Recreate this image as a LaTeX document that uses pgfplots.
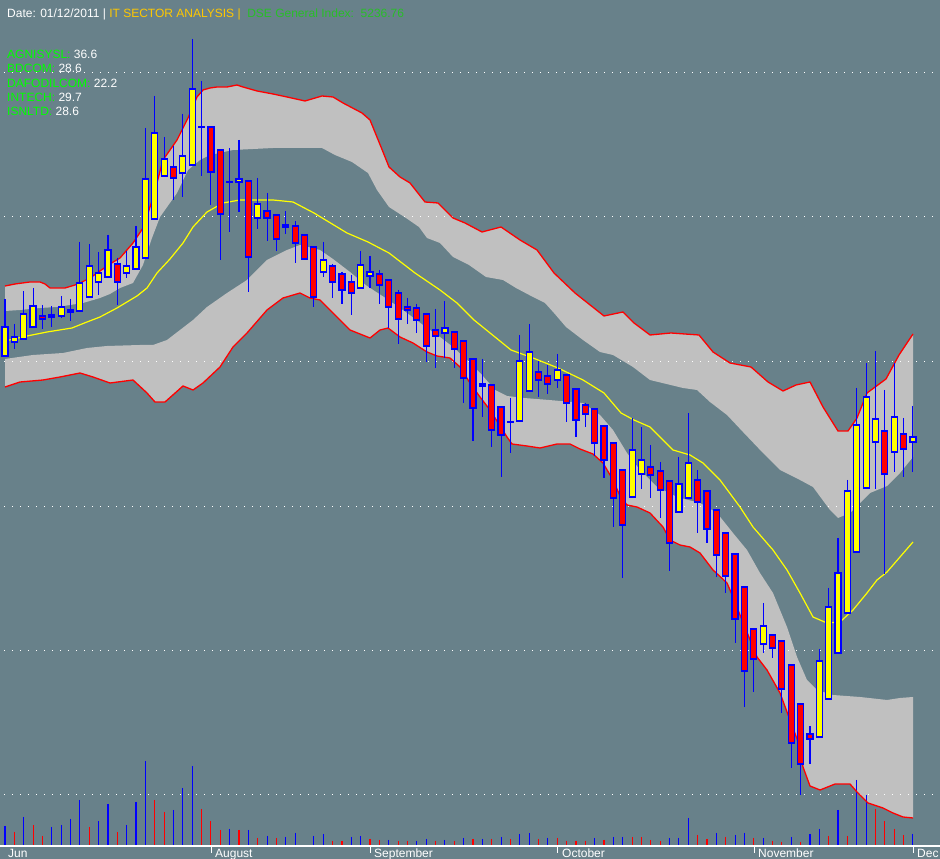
\documentclass[border=0pt]{standalone}
\usepackage{pgfplots}
\pgfplotsset{compat=1.18}
\usepackage{pgfplotstable}
\usepgfplotslibrary{fillbetween}
\usepackage{fontspec}
\setmainfont{Liberation Sans}

\definecolor{bg}{RGB}{104,129,138}
\definecolor{band}{RGB}{192,192,192}
\definecolor{cred}{RGB}{255,0,0}
\definecolor{cyel}{RGB}{255,255,0}
\definecolor{cblue}{RGB}{0,0,255}
\definecolor{gold}{RGB}{255,200,0}
\definecolor{lime}{RGB}{0,255,0}
\definecolor{dgreen}{RGB}{40,190,40}

% candles: i, high, body top, body bottom, low (screen units, down is larger),
% c=1 up (yellow) / 0 down (red); v = top of volume bar, vc=1 blue / 0 red
\pgfplotstableread{
i hi top bot lo c v vc
0 299 327 356 356 1 826 1
1 324 337 342 349 1 832 0
2 291 314 339 339 1 817 1
3 288 306 327 327 1 825 0
4 305 316 319 329 0 836 0
5 306 315 317 327 1 827 1
6 296 307 316 318 1 825 1
7 299 310 312 321 1 819 1
8 242 283 311 311 1 800 1
9 244 266 297 297 1 827 0
10 252 273 282 295 1 821 1
11 235 250 277 277 1 804 1
12 258 264 282 305 0 832 0
13 251 266 273 278 1 825 1
14 226 247 269 269 1 802 1
15 128 179 258 258 1 761 1
16 96 133 219 219 1 800 0
17 137 159 176 177 1 812 0
18 146 167 178 200 0 810 1
19 114 156 173 197 1 788 1
20 39 89 165 165 1 766 1
21 81 127 127 176 1 809 0
22 127 127 172 205 0 821 0
23 150 150 214 260 0 830 0
24 148 182 182 232 1 829 1
25 140 179 182 212 1 830 0
26 181 181 257 292 0 830 1
27 178 204 218 229 1 838 0
28 193 211 218 241 0 836 1
29 215 215 239 251 0 838 0
30 211 225 227 234 1 837 1
31 221 226 243 263 0 833 1
32 235 235 259 259 0 846 1
33 247 247 297 307 0 836 1
34 242 260 272 277 1 834 1
35 264 266 282 298 0 841 0
36 272 274 290 304 0 841 0
37 275 282 293 315 0 837 1
38 251 265 288 288 1 836 1
39 256 272 276 288 1 839 0
40 270 274 285 304 0 840 0
41 280 280 307 328 0 840 1
42 290 293 319 344 0 841 0
43 298 307 310 324 0 841 0
44 304 308 320 333 0 841 1
45 314 314 346 362 0 839 1
46 309 330 336 368 0 841 0
47 301 328 333 358 1 840 1
48 332 332 349 368 0 841 0
49 341 341 378 403 0 838 1
50 359 359 408 441 0 839 0
51 359 384 386 417 0 839 1
52 385 385 430 447 0 839 0
53 407 407 435 477 0 837 1
54 398 422 422 453 1 839 0
55 335 361 421 421 1 834 1
56 324 352 391 391 1 833 1
57 361 372 380 397 0 839 0
58 365 376 384 394 0 838 1
59 354 370 380 388 1 838 0
60 375 375 403 422 0 841 0
61 389 389 420 437 0 841 0
62 403 405 414 427 0 841 0
63 409 409 443 456 0 838 1
64 426 426 460 478 0 840 0
65 443 443 498 527 0 837 1
66 470 470 525 578 0 837 1
67 418 450 497 497 1 837 0
68 427 460 474 489 1 837 0
69 445 467 475 498 0 840 0
70 462 471 490 518 0 841 0
71 481 481 543 571 0 838 1
72 457 484 512 512 1 838 1
73 413 463 498 498 1 818 1
74 470 480 502 533 0 835 0
75 491 491 529 543 0 839 0
76 510 510 555 577 0 833 1
77 533 533 576 593 0 837 0
78 554 554 619 643 0 835 1
79 587 587 671 707 0 833 1
80 629 629 659 692 0 838 0
81 603 626 644 653 1 838 1
82 635 635 648 658 0 841 0
83 641 641 689 713 0 842 0
84 665 665 743 768 0 837 1
85 704 704 764 795 0 842 0
86 726 734 739 764 0 834 1
87 649 661 737 737 1 829 1
88 588 607 699 699 1 836 0
89 538 573 653 653 1 810 1
90 480 491 613 613 1 836 0
91 388 425 552 552 1 780 1
92 363 397 488 488 1 795 1
93 351 419 442 489 1 809 0
94 390 431 474 574 0 821 0
95 363 417 452 472 1 829 0
96 418 434 449 477 0 835 0
97 406 437 442 472 1 834 1
}\candles

\pgfplotstableread{
x y
5 286
15 284
30 282
40 282
45 284
50 288
65 288
75 285
80 283
90 278
100 271
110 264
120 258
133 243
143 228
153 198
163 160
177 140
183 128
188 118
197 97
203 90
210 88
217 87
227 87
237 85
243 87
257 91
273 94
287 97
305 101
322 96
333 97
343 103
362 113
370 120
381 147
389 167
400 177
410 183
425 202
438 203
453 218
465 223
482 232
501 227
520 240
537 250
554 273
575 293
604 316
623 312
634 323
650 335
671 333
699 335
713 352
730 363
751 367
768 382
783 391
796 385
810 382
823 407
838 431
848 431
857 418
867 393
886 379
899 355
913 334
}\upperband

\pgfplotstableread{
x y
5 311
20 310
40 308
57 307
70 305
83 303
100 298
110 294
120 288
133 283
143 265
152 238
160 217
177 193
188 170
200 160
210 155
233 150
273 148
300 148
322 148
335 155
352 162
368 173
377 190
389 207
406 218
419 227
427 238
440 243
453 257
469 265
486 277
503 280
516 288
533 297
545 303
554 313
566 327
583 340
600 352
613 355
633 367
650 380
683 388
697 390
710 402
727 415
743 432
763 453
780 470
800 480
813 487
830 510
838 518
850 513
863 500
870 493
887 486
900 473
913 457
}\upperinner

\pgfplotstableread{
x y
5 341
27 336
47 332
72 328
87 322
100 317
117 308
137 296
147 288
157 273
170 259
183 243
193 227
207 212
223 203
240 200
273 200
293 202
314 213
347 233
368 242
389 253
415 273
440 290
457 303
474 320
495 337
511 350
533 358
558 368
583 380
604 393
621 413
634 420
650 427
663 440
673 450
690 455
703 463
720 480
740 507
753 527
773 550
787 570
800 593
813 617
827 623
840 622
853 610
867 593
877 580
887 572
900 557
913 542
}\midline

\pgfplotstableread{
x y
5 359
33 355
63 353
87 348
107 346
140 345
153 345
167 340
180 330
193 320
207 307
227 293
247 280
267 260
287 250
300 245
320 250
333 259
350 272
367 286
387 299
407 313
427 328
440 337
453 347
467 360
482 375
495 390
507 396
524 398
549 400
583 403
600 415
613 430
627 453
640 470
657 487
677 497
700 503
717 513
733 533
747 550
760 573
773 593
787 627
797 657
807 680
817 690
833 695
860 697
887 700
900 698
913 697
}\lowerinner

\pgfplotstableread{
x y
5 387
20 382
43 380
60 377
80 373
93 377
110 383
133 380
147 393
155 402
165 402
183 386
193 390
203 383
220 367
233 347
247 333
267 310
283 298
300 293
310 298
320 300
333 313
350 330
370 338
380 330
388 328
400 337
413 343
427 352
437 356
450 358
460 367
470 383
480 397
490 410
507 437
512 444
527 446
540 448
557 444
570 444
580 449
593 454
603 463
613 480
620 496
627 505
637 507
650 513
663 527
670 540
680 545
690 547
700 553
713 570
727 583
733 597
740 615
757 657
767 670
780 693
790 720
800 747
803 767
810 786
820 790
835 784
850 784
857 792
868 803
883 808
893 813
903 817
913 818
}\lowerband

\begin{document}
\begin{tikzpicture}
\begin{axis}[
    width=940pt, height=859pt, scale only axis,
    xmin=0, xmax=940, ymin=0, ymax=859, y dir=reverse,
    ticks=none, axis line style={draw=none},
    axis background/.style={fill=bg},
    bars/.style={draw=none, mark=none, error bars/y dir=plus,
                 error bars/y explicit, error bars/error mark=none},
]
% volume
\addplot[bars, error bars/error bar style={draw=cblue, line width=1.1pt}]
    table[x expr=5+9.36*\thisrow{i}, y=v, y error plus expr=846-\thisrow{v},
          restrict expr to domain={\thisrow{vc}}{0.5:1.5}] {\candles};
\addplot[bars, error bars/error bar style={draw=cred, line width=1.1pt}]
    table[x expr=5+9.36*\thisrow{i}, y=v, y error plus expr=846-\thisrow{v},
          restrict expr to domain={\thisrow{vc}}{-0.5:0.5}] {\candles};

% bands
\addplot[draw=none, name path=U] table {\upperband};
\addplot[draw=none, name path=UI] table {\upperinner};
\addplot[draw=none, name path=LI] table {\lowerinner};
\addplot[draw=none, name path=L] table {\lowerband};
\addplot[band, draw=none] fill between[of=U and UI];
\addplot[band, draw=none] fill between[of=LI and L];

% dotted grid
\foreach \g in {73,217,362,507,651,795}{
  \edef\tmp{\noexpand\draw[white, line width=1pt, dash pattern=on 1pt off 7pt]
     (axis cs:4,\g) -- (axis cs:940,\g);}\tmp
}

\addplot[cred, line width=1.3pt] table {\upperband};
\addplot[cred, line width=1.3pt] table {\lowerband};
\addplot[cyel, line width=1.2pt] table {\midline};

% wicks
\addplot[bars, error bars/error bar style={draw=cblue, line width=1.1pt}]
    table[x expr=5+9.36*\thisrow{i}, y=hi, y error plus expr=\thisrow{lo}-\thisrow{hi}] {\candles};
% body outline
\addplot[bars, error bars/error bar style={draw=cblue, line width=7.2pt}]
    table[x expr=5+9.36*\thisrow{i}, y expr=\thisrow{top}-0.8,
          y error plus expr=\thisrow{bot}-\thisrow{top}+1.6] {\candles};
% body fill
\addplot[bars, error bars/error bar style={draw=cyel, line width=4.8pt}]
    table[x expr=5+9.36*\thisrow{i}, y expr=\thisrow{top}+1,
          y error plus expr={max(\thisrow{bot}-\thisrow{top}-2,0)},
          restrict expr to domain={\thisrow{c}}{0.5:1.5}] {\candles};
\addplot[bars, error bars/error bar style={draw=cred, line width=4.8pt}]
    table[x expr=5+9.36*\thisrow{i}, y expr=\thisrow{top}+1,
          y error plus expr={max(\thisrow{bot}-\thisrow{top}-2,0)},
          restrict expr to domain={\thisrow{c}}{-0.5:0.5}] {\candles};

% time axis
\draw[white, line width=1.2pt] (axis cs:0,846) -- (axis cs:940,846);
\foreach \t in {211,370,557,754,913}{
  \edef\tmp{\noexpand\draw[white, line width=1pt] (axis cs:\t,846) -- (axis cs:\t,853);}\tmp
}
\tikzset{lab/.style={anchor=base west, inner sep=0pt, text=white, font=\fontsize{12}{14}\selectfont}}
\node[lab] at (axis cs:8,857.5) {Jun};
\node[lab] at (axis cs:215,857.5) {August};
\node[lab] at (axis cs:374,857.5) {September};
\node[lab] at (axis cs:562,857.5) {October};
\node[lab] at (axis cs:758,857.5) {November};
\node[lab] at (axis cs:917,857.5) {Dec};

% header
\node[lab] at (axis cs:7,17.5) {Date: 01/12/2011 |\ \textcolor{gold}{IT SECTOR ANALYSIS |}\ \ \textcolor{dgreen}{DSE General Index:\ \ 5236.76}};
\node[lab] at (axis cs:7,58.3) {\textcolor{lime}{AGNISYSL:} 36.6};
\node[lab] at (axis cs:7,73) {\textcolor{lime}{BDCOM:} 28.6};
\node[lab] at (axis cs:7,87.5) {\textcolor{lime}{DAFODILCOM:} 22.2};
\node[lab] at (axis cs:7,101.8) {\textcolor{lime}{INTECH:} 29.7};
\node[lab] at (axis cs:7,116) {\textcolor{lime}{ISNLTD:} 28.6};
\end{axis}
\pgfresetboundingbox
\path[use as bounding box] (0,0) rectangle (940pt,859pt);
\end{tikzpicture}
\end{document}
